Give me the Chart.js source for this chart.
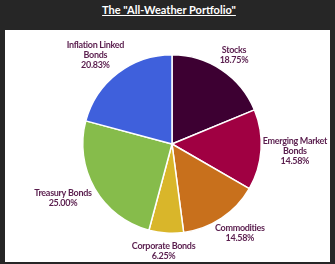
<!DOCTYPE html>
<html>
<head>
<meta charset="utf-8">
<script src="https://cdn.jsdelivr.net/npm/chart.js@4/dist/chart.umd.min.js"></script>
<style>
  html, body { margin: 0; padding: 0; background: #262626; width: 335px; height: 264px; overflow: hidden; }
  #title { position: absolute; left: 0; top: 3px; width: 338px; text-align: center; color: #fff;
    font: bold 11px Lato, sans-serif; text-decoration: underline; }
  #panel { position: absolute; left: 5px; top: 30px; width: 325px; height: 232px; background: #fff; }
  canvas { display: block; }
</style>
</head>
<body>
<div id="title">The "All-Weather Portfolio"</div>
<div id="panel"><canvas id="pie" width="325" height="232"></canvas></div>
<script>
const categories = ["Stocks", "Emerging Market Bonds", "Commodities", "Corporate Bonds", "Treasury Bonds", "Inflation Linked Bonds"];
const weights = [18.75, 14.58, 14.58, 6.25, 25.00, 20.83];
const sliceColors = ["#3d0032", "#a00042", "#c8701c", "#d9b62a", "#86bc4b", "#3f60dc"];

// wrap label text like excel does
const wrap = (ctx, text, maxW) => {
  let words = text.split(" "), lines = [], cur = "";
  for (let w of words) {
    let t = cur ? cur + " " + w : w;
    if (ctx.measureText(t).width > maxW && cur) { lines.push(cur); cur = w; }
    else cur = t;
  }
  lines.push(cur);
  return lines;
}

const outsideLabels = {
  id: "outsideLabels",
  afterDatasetsDraw(chart) {
    const ctx = chart.ctx;
    const meta = chart.getDatasetMeta(0);
    ctx.save();
    ctx.font = "bold 9px Lato, sans-serif";
    ctx.letterSpacing = "-0.3px";
    ctx.fillStyle = "#5a1e4e";
    ctx.textAlign = "center";
    ctx.textBaseline = "middle";
    const lh = 10;
    meta.data.forEach((arc, i) => {
      const p = arc.getProps(["x", "y", "startAngle", "endAngle", "outerRadius"], true);
      const mid = (p.startAngle + p.endAngle) / 2;
      const dx = Math.cos(mid), dy = Math.sin(mid);
      const lines = wrap(ctx, categories[i], 70);
      lines.push(weights[i].toFixed(2) + "%");
      let w = Math.max(...lines.map(l => ctx.measureText(l).width));
      let h = lines.length * lh;
      let cx = p.x + dx * (p.outerRadius + 8) + dx * w / 2;
      let cy = p.y + dy * (p.outerRadius + 8) + dy * h / 2;
      // keep inside the panel
      cx = Math.min(cx, chart.width - w / 2 - 3);
      cx = Math.max(cx, w / 2 + 3);
      lines.forEach((l, k) => ctx.fillText(l, cx, cy - h / 2 + lh / 2 + k * lh));
    });
    ctx.restore();
  }
};

new Chart(document.getElementById("pie"), {
  type: "pie",
  data: {
    labels: categories,
    datasets: [{
      data: weights,
      backgroundColor: sliceColors,
      borderColor: "#ffffff",
      borderWidth: 1.5
    }]
  },
  options: {
    responsive: false,
    animation: false,
    layout: { padding: { left: 77, right: 68, top: 24, bottom: 28 } },
    plugins: { legend: { display: false }, tooltip: { enabled: false } }
  },
  plugins: [outsideLabels]
});
</script>
</body>
</html>
